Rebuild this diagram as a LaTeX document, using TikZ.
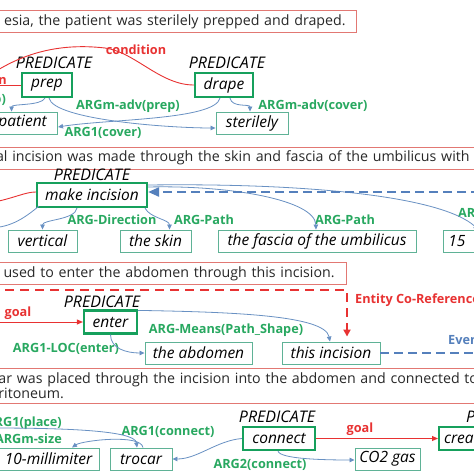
\documentclass[tikz,border=0pt]{standalone}
\usepackage{fontspec}
\setmainfont{Open Sans}
\usetikzlibrary{arrows.meta, positioning}
\definecolor{sentred}{RGB}{226,120,115}
\definecolor{relred}{RGB}{232,50,50}
\definecolor{arggreen}{RGB}{40,168,96}
\definecolor{predgreen}{RGB}{22,160,92}
\definecolor{boxgreen}{RGB}{95,178,150}
\definecolor{linkblue}{RGB}{105,145,195}
\definecolor{corefblue}{RGB}{85,128,188}
\definecolor{sentgray}{RGB}{40,40,40}

\begin{document}
\begin{tikzpicture}[x=1pt, y=-1pt,
    sentence/.style={rectangle, draw=sentred, line width=0.9pt, inner xsep=12pt, inner ysep=2pt, minimum height=22pt, text=sentgray, font=\fontsize{14.2}{15.5}\selectfont},
    predbox/.style={rectangle, draw=predgreen, line width=2.2pt, minimum height=24pt, inner sep=2pt, font=\fontsize{15.5}{16}\selectfont\itshape},
    argbox/.style={rectangle, draw=boxgreen, line width=0.9pt, minimum height=22pt, inner sep=2pt, font=\fontsize{15.5}{16}\selectfont\itshape},
    predlabel/.style={inner sep=0pt, font=\fontsize{16}{16}\selectfont\itshape},
    rolelabel/.style={inner sep=0pt, text=arggreen, font=\fontsize{12.7}{14}\selectfont\bfseries},
    rellabel/.style={inner sep=0pt, text=relred, font=\fontsize{12.7}{14}\selectfont\bfseries},
    rolelink/.style={draw=linkblue, line width=0.8pt, -{Triangle[length=5pt, width=4.5pt]}},
    rellink/.style={draw=relred, line width=0.9pt},
    eventcoref/.style={draw=corefblue, line width=2.4pt, dash pattern=on 9pt off 5pt},
    entitycoref/.style={draw=relred, line width=2.6pt, dash pattern=on 9pt off 6pt}]

    \useasboundingbox (0,0) rectangle (474,474);
    \fill[white] (0,0) rectangle (474,474);
    \clip (0,0) rectangle (474,474);

    % sentence 1
    \node[sentence, text width=420pt, align=right, anchor=east, inner xsep=11pt] (sent1) at (357,21.5) {esia, the patient was sterilely prepped and draped.};
    \node[predbox, minimum width=50pt] (prep) at (47,85) {prep};
    \node[predbox, minimum width=58pt] (drape) at (224,85) {drape};
    \node[predlabel] (predprep) at (54,63) {PREDICATE};
    \node[predlabel] (preddrape) at (227,63) {PREDICATE};
    \node[argbox, minimum width=70pt, anchor=east] (patient) at (58,123) {patient};
    \node[argbox, minimum width=72pt] (sterilely) at (252,123) {sterilely};
    \coordinate (condleft) at (-10,85);
    \coordinate (condsrc) at (-10,75);
    \node[rellabel] (cond) at (136,50) {condition};
    \node[rellabel, anchor=east] (condcut) at (7,80) {condition};
    \node[rolelabel, anchor=east] (argprepcut) at (6,100) {ARG1(prep)};
    \node[rolelabel] (advprep) at (128,106) {ARGm-adv(prep)};
    \node[rolelabel] (advcover) at (313,106) {ARGm-adv(cover)};
    \node[rolelabel] (argcover) at (103,133) {ARG1(cover)};

    \draw[rellink] (condleft) -- (prep.west);
    \draw[rellink] (condsrc) .. controls (30,48) and (70,44) .. (105,48) .. controls (135,52) and (160,85) .. (drape.west);
    \draw[rolelink] ([xshift=-2pt]prep.south) .. controls +(-4,8) and +(0,-8) .. ([xshift=-11pt]patient.north);
    \draw[rolelink] ([xshift=2pt]prep.south) .. controls +(5,22) and +(-45,0) .. ([yshift=-5pt]sterilely.west);
    \draw[rolelink] ([xshift=6pt]drape.south) .. controls +(2,10) and +(0,-8) .. ([xshift=-2pt]sterilely.north);
    \draw[rolelink] ([xshift=-4pt]drape.south) .. controls +(-5,22) and +(50,-8) .. ([yshift=-4pt]patient.east);

    % sentence 2
    \node[sentence, text width=540pt, align=right, anchor=east, inner xsep=14pt] (sent2) at (484,158) {al incision was made through the skin and fascia of the umbilicus with};
    \node[predbox, minimum width=110pt] (make) at (92,195) {make incision};
    \node[predlabel] (predmake) at (92,175) {PREDICATE};
    \node[argbox, minimum width=69pt] (vertical) at (42.5,241) {vertical};
    \node[argbox, minimum width=71pt] (skin) at (155.5,241) {the skin};
    \node[argbox, minimum width=198pt] (fascia) at (317,241) {the fascia of the umbilicus};
    \node[argbox, minimum width=80pt, anchor=west, align=left, text width=70pt] (size) at (443,241) {15};
    \coordinate (makesrc) at (-10,203);
    \coordinate (makeleft) at (-10,228);
    \coordinate (eventright) at (480,192);
    \node[rolelabel] (direction) at (112,220) {ARG-Direction};
    \node[rolelabel] (pathskin) at (204,220) {ARG-Path};
    \node[rolelabel] (pathfascia) at (345,220) {ARG-Path};
    \node[rolelabel, anchor=west] (sizecut) at (458,213) {ARG};

    \draw[rellink] (makesrc) .. controls (15,198) and (25,192) .. ([yshift=3pt]make.west);
    \draw[rolelink] ([xshift=-53pt, yshift=2pt]make.south) .. controls +(-10,8) and +(25,-2) .. (makeleft);
    \draw[rolelink] ([xshift=-15pt]make.south) .. controls +(-2,12) and +(0,-10) .. (vertical.north);
    \draw[rolelink] ([xshift=53pt]make.south) .. controls +(5,10) and +(0,-10) .. ([xshift=14pt]skin.north);
    \draw[rolelink] ([yshift=8pt]make.east) .. controls (230,185) and (315,200) .. ([xshift=-1pt]fascia.north);
    \draw[rolelink] ([yshift=10pt]make.east) .. controls (300,183) and (440,195) .. ([xshift=-5pt]size.north);
    \draw[eventcoref, -{Triangle[length=11pt, width=9pt]}] (eventright) -- ([yshift=3pt]make.east);

    % sentence 3
    \node[sentence, text width=420pt, align=right, anchor=east] (sent3) at (347,273.5) {used to enter the abdomen through this incision.};
    \node[predbox, minimum width=53pt, minimum height=23pt] (enter) at (110.5,322) {enter};
    \node[predlabel] (predenter) at (102,302) {PREDICATE};
    \node[argbox, minimum width=107pt] (abdomen) at (198.5,353) {the abdomen};
    \node[argbox, minimum width=98pt] (incision) at (331,353) {this incision};
    \coordinate (entityleft) at (-10,290);
    \coordinate (goalleft) at (-10,322);
    \coordinate (eventright2) at (480,353);
    \node[rellabel, anchor=west] (entity) at (355,300) {Entity Co-Reference};
    \node[rellabel] (goalenter) at (18,313) {goal};
    \node[rolelabel] (means) at (226,330) {ARG-Means(Path\_Shape)};
    \node[rolelabel] (locenter) at (66,349) {ARG1-LOC(enter)};
    \node[inner sep=0pt, text=corefblue, font=\fontsize{12.7}{14}\selectfont\bfseries, anchor=west] (event) at (448,340) {Event Co-Reference};

    \draw[entitycoref, -{Triangle[length=7pt, width=7pt]}, shorten >=5pt] (entityleft) -| ([xshift=16pt]incision.north);
    \draw[rellink, -{Triangle[length=6pt, width=5pt]}] (goalleft) -- (enter.west);
    \draw[rolelink] ([yshift=-1pt]enter.north east) .. controls (230,312) and (325,315) .. ([xshift=-1pt]incision.north);
    \draw[rolelink] (enter.south) .. controls +(0,14) and +(-18,0) .. (abdomen.west);
    \draw[eventcoref] (incision.east) -- (eventright2);

    % sentence 4
    \node[sentence, text width=540pt, align=left, anchor=west, minimum height=35pt] (sent4) at (-14,385.5) {ar was placed through the incision into the abdomen and connected to\\ritoneum.};
    \node[predbox, minimum width=72pt, minimum height=23pt] (connect) at (279,438.5) {connect};
    \node[predbox, minimum width=80pt, minimum height=23pt, anchor=west, text width=70pt, align=left] (create) at (438,438.5) {create};
    \node[predlabel] (predconnect) at (277,417) {PREDICATE};
    \node[predlabel, anchor=west] (predcreate) at (466,417) {PREDICATE};
    \node[argbox, minimum width=102pt, anchor=east] (mm) at (100,459) {10-millimiter};
    \node[argbox, minimum width=62pt] (trocar) at (141,459) {trocar};
    \node[argbox, minimum width=65pt] (gas) at (387.5,459) {CO2 gas};
    \coordinate (placeleft) at (-10,428);
    \node[rolelabel, anchor=east] (place) at (62,423) {ARG1(place)};
    \node[rolelabel, anchor=east] (msize) at (62,439) {ARGm-size};
    \node[rolelabel] (argconnect) at (168,432) {ARG1(connect)};
    \node[rolelabel] (arg2connect) at (260,465) {ARG2(connect)};
    \node[rellabel] (goalconnect) at (360,429) {goal};

    \draw[rolelink] (placeleft) .. controls (60,428) and (135,430) .. ([xshift=-4pt]trocar.north);
    \draw[rolelink] ([xshift=2pt]trocar.north) .. controls +(-2,-14) and +(10,-7) .. ([xshift=-28pt]mm.north east);
    \draw[rolelink] (connect.west) .. controls +(-25,2) and +(25,0) .. (trocar.east);
    \draw[rolelink] ([xshift=-1pt]connect.south) .. controls +(2,8) and +(-30,0) .. ([yshift=-1pt]gas.west);
    \draw[rellink, -{Triangle[length=6pt, width=5pt]}] (connect.east) -- (create.west);
\end{tikzpicture}
\end{document}
